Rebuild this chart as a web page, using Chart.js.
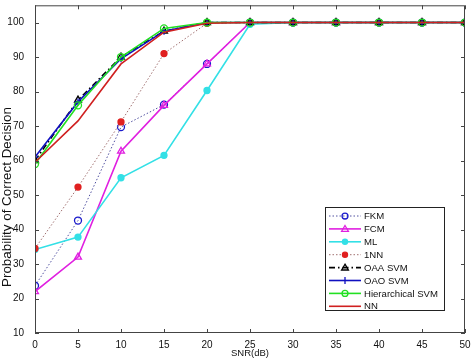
<!DOCTYPE html>
<html>
<head>
<meta charset="utf-8">
<script src="https://cdn.jsdelivr.net/npm/chart.js@4"></script>
<style>
  html, body { margin: 0; padding: 0; background: #fff; }
  #wrap { width: 474px; height: 363px; position: relative; }
</style>
</head>
<body>
<div id="wrap"><canvas id="snrChart"></canvas></div>
<script>
// SNR values (dB) and tick labels
const snr = [0, 5, 10, 15, 20, 25, 30, 35, 40, 45, 50];
const xTicks = [0, 5, 10, 15, 20, 25, 30, 35, 40, 45, 50];
const yTicks = [10, 20, 30, 40, 50, 60, 70, 80, 90, 100];

// Probability of correct decision per method
const fkm  = [23.7, 42.6, 69.7, 76.2, 88, 100, 100, 100, 100, 100, 100];
const fcm  = [22, 32, 62.7, 76, 88, 100, 100, 100, 100, 100, 100];
const ml   = [34.2, 37.8, 55, 61.5, 80.3, 99.5, 100, 100, 100, 100, 100];
const nn1  = [34.5, 52.3, 71.2, 91, 99.8, 100, 100, 100, 100, 100, 100];
const oaa  = [60, 77.5, 90, 97.5, 100, 100, 100, 100, 100, 100, 100];
const oao  = [61, 77, 89.5, 97.5, 100, 100, 100, 100, 100, 100, 100];
const hier = [59, 76, 90, 98.3, 100, 100, 100, 100, 100, 100, 100];
const nn   = [59.5, 71.5, 88, 97.2, 99.8, 100, 100, 100, 100, 100, 100];

const FONT = "'Liberation Sans', Arial, sans-serif";

function pts(arr) { return arr.map((v, i) => ({ x: snr[i], y: v })); }

// style per series
const series = [
  { label: 'FKM', data: fkm, color: '#5050a0', pc: '#1a1acc', dash: [1.5, 2], style: 'circle', fill: false, r: 3.5, w: 1 },
  { label: 'FCM', data: fcm, color: '#e020e0', pc: '#e020e0', dash: [], style: 'triangle', fill: false, r: 4, w: 1.6 },
  { label: 'ML', data: ml, color: '#33e0e6', pc: '#33e0e6', dash: [], style: 'circle', fill: true, r: 3, w: 1.6 },
  { label: '1NN', data: nn1, color: '#a07070', pc: '#e02020', dash: [1.5, 2], style: 'circle', fill: true, r: 3, w: 1 },
  { label: 'OAA SVM', data: oaa, color: '#000000', pc: '#000000', dash: [6, 3, 1.5, 3], style: 'triangle', fill: false, r: 4, w: 1.6 },
  { label: 'OAO SVM', data: oao, color: '#1010c0', pc: '#1010c0', dash: [], style: 'cross', fill: false, r: 3.5, w: 1.6 },
  { label: 'Hierarchical SVM', data: hier, color: '#22e022', pc: '#22e022', dash: [], style: 'circle', fill: false, r: 3.5, w: 1.6 },
  { label: 'NN', data: nn, color: '#d02020', pc: '#d02020', dash: [], style: false, fill: false, r: 0, w: 1.6 }
];

const datasets = series.map((s, i) => ({
  label: s.label,
  data: pts(s.data),
  borderColor: s.color,
  borderWidth: s.w,
  borderDash: s.dash,
  pointStyle: s.style,
  pointRadius: s.r,
  pointBorderColor: s.pc,
  pointBackgroundColor: s.fill ? s.pc : 'rgba(0,0,0,0)',
  pointBorderWidth: 1.3,
  tension: 0,
  order: series.length - i
}));

// scale a font so the text gets a given width
function fitFont(ctx, text, width) {
  ctx.font = '10px ' + FONT;
  const size = 10 * width / ctx.measureText(text).width;
  ctx.font = size.toFixed(2) + 'px ' + FONT;
}

// MATLAB style frame with inward ticks, axis titles and legend box
const matlabFrame = {
  id: 'matlabFrame',
  afterDatasetsDraw(chart) {
    const ctx = chart.ctx;
    const a = chart.chartArea;
    const xs = chart.scales.x, ys = chart.scales.y;
    ctx.save();
    ctx.strokeStyle = '#444';
    ctx.lineWidth = 1;
    ctx.setLineDash([]);
    ctx.strokeRect(a.left + 0.5, a.top + 0.5, a.right - a.left - 1, a.bottom - a.top - 1);
    ctx.beginPath();
    xTicks.forEach(t => {
      const px = Math.round(xs.getPixelForValue(t)) + 0.5;
      ctx.moveTo(px, a.bottom); ctx.lineTo(px, a.bottom - 4);
      ctx.moveTo(px, a.top); ctx.lineTo(px, a.top + 4);
    });
    yTicks.forEach(t => {
      const py = Math.round(ys.getPixelForValue(t)) + 0.5;
      ctx.moveTo(a.left, py); ctx.lineTo(a.left + 4, py);
      ctx.moveTo(a.right, py); ctx.lineTo(a.right - 4, py);
    });
    ctx.stroke();

    // axis titles
    ctx.fillStyle = '#111';
    ctx.textAlign = 'center';
    ctx.textBaseline = 'middle';
    fitFont(ctx, 'SNR(dB)', 38);
    ctx.fillText('SNR(dB)', 250, 353);
    ctx.save();
    ctx.translate(7, 197);
    ctx.rotate(-Math.PI / 2);
    fitFont(ctx, 'Probability of Correct Decision', 180);
    ctx.fillText('Probability of Correct Decision', 0, 0);
    ctx.restore();

    // legend
    const lx = 325, ly = 207, lw = 119, lh = 103;
    ctx.fillStyle = '#fff';
    ctx.fillRect(lx, ly, lw, lh);
    ctx.strokeStyle = '#222';
    ctx.strokeRect(lx + 0.5, ly + 0.5, lw, lh);
    fitFont(ctx, 'Hierarchical SVM', 74);
    const legendFont = ctx.font;
    chart.data.datasets.forEach((ds, i) => {
      const y = 216 + i * 12.9;
      const mx = 345;
      ctx.save();
      ctx.strokeStyle = ds.borderColor;
      ctx.lineWidth = ds.borderWidth;
      ctx.setLineDash(ds.borderDash);
      ctx.beginPath();
      ctx.moveTo(329, y); ctx.lineTo(361, y);
      ctx.stroke();
      ctx.setLineDash([]);
      if (ds.pointStyle) {
        ctx.fillStyle = ds.pointBackgroundColor;
        ctx.strokeStyle = ds.pointBorderColor;
        ctx.lineWidth = ds.pointBorderWidth;
        ctx.beginPath();
        if (ds.pointStyle === 'circle') {
          ctx.arc(mx, y, ds.pointRadius * 0.85, 0, Math.PI * 2);
        } else if (ds.pointStyle === 'triangle') {
          const r = ds.pointRadius * 0.85;
          ctx.moveTo(mx, y - r); ctx.lineTo(mx + r, y + r * 0.7); ctx.lineTo(mx - r, y + r * 0.7); ctx.closePath();
        } else {
          ctx.moveTo(mx, y - 3.5); ctx.lineTo(mx, y + 3.5);
        }
        ctx.fill();
        ctx.stroke();
      }
      ctx.restore();
      ctx.fillStyle = '#111';
      ctx.font = legendFont;
      ctx.textAlign = 'left';
      ctx.textBaseline = 'middle';
      ctx.fillText(ds.label, 364, y + 0.5);
    });
    ctx.restore();
  }
};

const ctx = document.getElementById('snrChart').getContext('2d');
const chart = new Chart(ctx, {
  type: 'line',
  data: { datasets: datasets },
  plugins: [matlabFrame],
  options: {
    responsive: true,
    maintainAspectRatio: false,
    animation: false,
    layout: { padding: { top: 5, right: 9, left: 0, bottom: 0 } },
    plugins: { legend: { display: false }, tooltip: { enabled: false } },
    scales: {
      x: {
        type: 'linear',
        min: 0, max: 50,
        afterBuildTicks: s => { s.ticks = xTicks.map(v => ({ value: v })); },
        afterFit: s => { s.height = 30; s.paddingLeft = 0; s.paddingRight = 0; },
        grid: { display: false },
        border: { display: false },
        ticks: { color: '#111', font: { family: FONT, size: 10 }, padding: -2, maxRotation: 0 }
      },
      y: {
        min: 10, max: 105,
        afterBuildTicks: s => { s.ticks = yTicks.map(v => ({ value: v })); },
        afterFit: s => { s.width = 35; s.paddingTop = 0; s.paddingBottom = 0; },
        grid: { display: false },
        border: { display: false },
        ticks: { color: '#111', font: { family: FONT, size: 10 }, padding: 3 }
      }
    }
  }
});
</script>
</body>
</html>
